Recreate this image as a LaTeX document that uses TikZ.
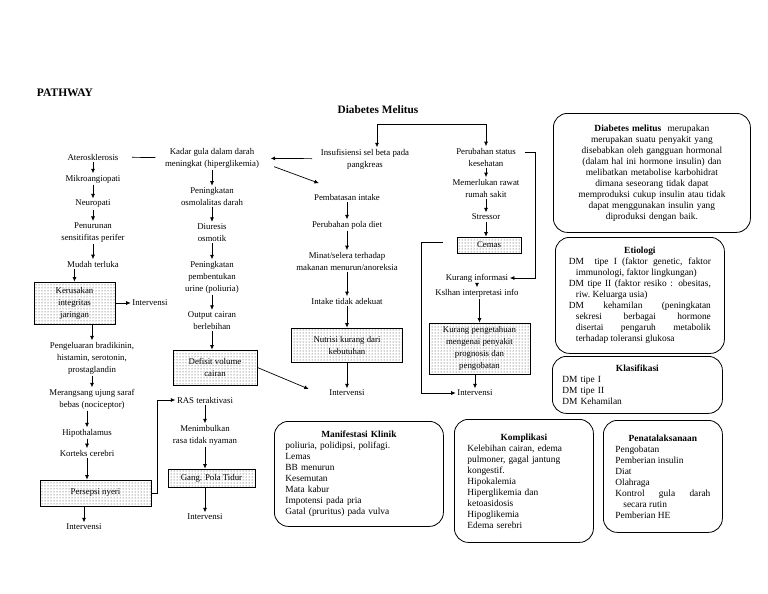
\documentclass[tikz,border=0pt]{standalone}
\usepackage{fontspec}
\setmainfont{Liberation Serif}
\usetikzlibrary{arrows.meta,positioning,patterns}
\setlength{\parindent}{0pt}

\begin{document}
\begin{tikzpicture}[
    x=1pt, y=-1pt,
    font=\fontsize{8.8}{12}\selectfont,
    on grid,
    txt/.style={align=center, inner sep=1.5pt},
    box/.style={
        rectangle, draw, line width=.8pt,
        pattern=dots, pattern color=black!80,
        align=center, inner sep=2pt
    },
    info/.style={
        rectangle, draw, line width=.8pt, rounded corners=14pt,
        align=left, anchor=north west,
        font=\fontsize{9.4}{11}\selectfont
    },
    arrow/.style={-{Latex[length=4.5pt,width=4pt]}, line width=.7pt}
]
\useasboundingbox (0,0) rectangle (768,594);

\node[font=\fontsize{11.5}{13}\selectfont\bfseries] (pathway) at (65,93) {PATHWAY};
\node[font=\fontsize{11.3}{13}\selectfont\bfseries] (dm) at (378,110) {Diabetes Melitus};

% Left column: neuropathy
\node[txt] (ater) at (93,157) {Aterosklerosis};
\node[txt, below=22pt of ater] (mikro) {Mikroangiopati};
\node[txt, below=25pt of mikro] (neuro) {Neuropati};
\node[txt, below=28.5pt of neuro] (sensi) {Penurunan\\sensitifitas perifer};
\node[txt, below=31.5pt of sensi] (luka) {Mudah terluka};
\node[box, below=39pt of luka, xshift=-18.5pt, minimum width=81pt, minimum height=42pt] (rusak) {Kerusakan\\integritas\\jaringan};
\node[txt, right=75.5pt of rusak] (int1) {Intervensi};
\node[txt, below=55pt of rusak, xshift=17.5pt] (brady) {Pengeluaran bradikinin,\\histamin, serotonin,\\prostaglandin};
\node[txt, below=41pt of brady] (saraf) {Merangsang ujung saraf\\bebas (nociceptor)};
\node[txt, below=34pt of saraf, xshift=-5pt] (hipo) {Hipothalamus};
\node[txt, below=20pt of hipo] (korteks) {Korteks cerebri};
\node[box, below=40pt of korteks, xshift=8.5pt, minimum width=111pt, minimum height=26pt] (nyeri) {Persepsi nyeri};
\node[txt, below=34pt of nyeri, xshift=-11.5pt] (int4) {Intervensi};

% Second column: hiperglikemia
\node[txt] (kadar) at (212,158) {Kadar gula dalam darah\\meningkat (hiperglikemia)};
\node[txt, below=38.5pt of kadar] (osmo) {Peningkatan\\osmolalitas darah};
\node[txt, below=36pt of osmo] (diur) {Diuresis\\osmotik};
\node[txt, below=44.5pt of diur] (urine) {Peningkatan\\pembentukan\\urine (poliuria)};
\node[txt, below=43.5pt of urine] (output) {Output cairan\\berlebihan};
\node[box, below=47pt of output, xshift=3pt, minimum width=84pt, minimum height=35pt] (defisit) {Defisit volume\\cairan};
\node[txt, below=32.5pt of defisit, xshift=-10pt] (ras) {RAS teraktivasi};
\node[txt, below=35pt of ras] (nyaman) {Menimbulkan\\rasa tidak nyaman};
\node[box, below=43pt of nyaman, xshift=6.5pt, minimum width=87pt, minimum height=18pt] (tidur) {Gang. Pola Tidur};
\node[txt, below=39pt of tidur, xshift=-6.5pt] (int5) {Intervensi};

% Third column: nutrisi
\node[txt] (insuf) at (365,159) {Insufisiensi sel beta pada\\pangkreas};
\node[txt, below=38pt of insuf, xshift=-18pt] (batas) {Pembatasan intake};
\node[txt, below=28pt of batas] (diet) {Perubahan pola diet};
\node[txt, below=36pt of diet] (minat) {Minat/selera terhadap\\makanan menurun/anoreksia};
\node[txt, below=40pt of minat] (adekuat) {Intake tidak adekuat};
\node[box, below=44pt of adekuat, minimum width=111pt, minimum height=34pt] (nutrisi) {Nutrisi kurang dari\\kebutuhan};
\node[txt, below=48pt of nutrisi] (int3) {Intervensi};

% Fourth column: status kesehatan
\node[txt] (status) at (486,157) {Perubahan status\\kesehatan};
\node[txt, below=31pt of status] (rawat) {Memerlukan rawat\\rumah sakit};
\node[txt, below=29pt of rawat] (stres) {Stressor};
\node[box, below=28pt of stres, xshift=3pt, minimum width=64pt, minimum height=16pt] (cemas) {Cemas};
\node[txt, below=33pt of cemas, xshift=-12pt] (info) {Kurang informasi};
\node[txt, below=15pt of info] (salah) {Kslhan interpretasi info};
\node[box, below=55.5pt of salah, xshift=2.5pt, minimum width=101pt, minimum height=51pt] (tahu) {Kurang pengetahuan\\mengenai penyakit\\prognosis dan\\pengobatan};
\node[txt, below=44.5pt of tahu, xshift=-4.5pt] (int6) {Intervensi};

% Info boxes
\node[info, align=center, text width=186pt, inner xsep=5.5pt, minimum height=119pt] (def) at (553,113)
    {\textbf{Diabetes melitus}~ merupakan\\merupakan suatu penyakit yang\\disebabkan oleh gangguan hormonal\\(dalam hal ini hormone insulin) dan\\melibatkan metabolise karbohidrat\\dimana seseorang tidak dapat\\memproduksi cukup insulin atau tidak\\dapat menggunakan insulin yang\\diproduksi dengan baik.};
\node[info, align=justify, text width=142pt, inner xsep=13.5pt, minimum height=116pt] (etio) at (555,237)
    {{\centering\textbf{Etiologi}\par}
    \hangindent=7pt\hangafter=1 DM\ \ tipe I (faktor genetic, faktor\linebreak immunologi, faktor lingkungan)\par
    \hangindent=7pt\hangafter=1 DM tipe II (faktor resiko : obesitas,\linebreak riw.\ Keluarga usia)\par
    \hangindent=7pt\hangafter=1 DM kehamilan (peningkatan\linebreak sekresi berbagai hormone\linebreak disertai pengaruh metabolik\linebreak terhadap toleransi glukosa\par};
\node[info, text width=150pt, inner xsep=10pt, minimum height=57pt] (klas) at (552,356)
    {{\centering\textbf{Klasifikasi}\par}DM tipe I\\DM tipe II\\DM Kehamilan};
\node[info, text width=147pt, inner xsep=11pt, minimum height=105pt] (klinik) at (274,421)
    {{\centering\textbf{Manifestasi Klinik}\par}poliuria, polidipsi, polifagi.\\Lemas\\BB menurun\\Kesemutan\\Mata kabur\\Impotensi pada pria\\Gatal (pruritus) pada vulva};
\node[info, text width=113pt, inner xsep=13pt, minimum height=123pt] (kompli) at (454,419)
    {{\centering\textbf{Komplikasi}\par}Kelebihan cairan, edema\\pulmoner, gagal jantung\\kongestif.\\Hipokalemia\\Hiperglikemia dan\\ketoasidosis\\Hipoglikemia\\Edema serebri};
\node[info, align=justify, text width=95pt, inner xsep=12pt, minimum height=112pt] (tata) at (603,420)
    {{\centering\textbf{Penatalaksanaan}\par}
    Pengobatan\par Pemberian insulin\par Diat\par Olahraga\par
    \hangindent=8pt\hangafter=1 Kontrol gula darah\linebreak secara rutin\par
    Pemberian HE\par};

% Arrows
\coordinate (split) at (377,124);
\draw[arrow] (split) -- (split |- insuf.north);
\draw[arrow] (split) -- (split -| status) -- (status);

\draw[arrow] (ater) -- (mikro);
\draw[arrow] (mikro) -- (neuro);
\draw[arrow] (neuro) -- (sensi);
\draw[arrow] (sensi) -- (luka);
\draw[arrow] (luka.south -| rusak.north) -- (rusak);
\draw[arrow] (rusak) -- (int1);
\draw[arrow] (rusak.south -| brady) -- (brady);
\draw[arrow] (brady) -- (saraf);
\draw[arrow] (saraf.south -| hipo) -- (hipo);
\draw[arrow] (hipo) -- (korteks);
\draw[arrow] (korteks) -- (korteks |- nyeri.north);
\draw[arrow] (nyeri.south -| int4) -- (int4);
\draw[arrow] (nyeri.east) -- ++(6,0) |- (ras);

\draw[line width=.7pt, shorten <=12pt, shorten >=8pt] (ater) -- (kadar);
\draw[arrow, shorten <=7pt, shorten >=10pt] (insuf) -- (kadar);
\draw[arrow] ([xshift=13.5pt,yshift=3pt]kadar.south east) -- ([xshift=6.5pt,yshift=9pt]batas.north west);

\draw[arrow] (kadar) -- (osmo);
\draw[arrow] (osmo) -- (diur);
\draw[arrow] (diur) -- (urine);
\draw[arrow] (urine) -- (output);
\draw[arrow] (output) -- (output |- defisit.north);
\draw[arrow] (defisit.east) -- ([xshift=-19pt,yshift=4pt]int3.west);
\draw[arrow] (ras) -- (nyaman);
\draw[arrow] (nyaman) -- (nyaman |- tidur.north);
\draw[arrow] (tidur.south -| int5) -- (int5);

\draw[arrow] (batas) -- (diet);
\draw[arrow] (diet) -- (minat);
\draw[arrow] (minat) -- (adekuat);
\draw[arrow] (adekuat) -- (nutrisi);
\draw[arrow] (nutrisi) -- (int3);

\draw[arrow] (status) -- (rawat);
\draw[arrow] (rawat) -- (stres);
\draw[arrow] (stres.south) -- (stres.south |- cemas.north);
\draw[arrow] ([xshift=8pt,yshift=5pt]status.east) -- ++(10,0) |- (info);
\draw[arrow] ([xshift=-14pt,yshift=3pt]cemas.west) -- ++(-21,0) |- (int6);
\draw[arrow] (info) -- (salah);
\draw[arrow] (salah.south -| tahu) -- (tahu);
\draw[arrow] (tahu.south -| int6) -- (int6);

\end{tikzpicture}
\end{document}
